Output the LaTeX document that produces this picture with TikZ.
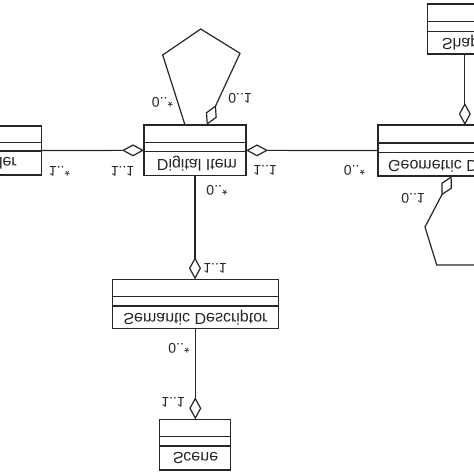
\documentclass[tikz,border=0pt]{standalone}
\usepackage{graphicx}
\usepackage{fontspec}
\setmainfont{Liberation Sans}
\usetikzlibrary{arrows.meta,calc}
\definecolor{ink}{HTML}{262626}
\newcommand\upsd[1]{\scalebox{1}[-1]{#1}}
\newcommand\umlclass[7]{%
  \node[classbox,minimum width=#4pt,minimum height=#5pt,anchor=north west] (#1) at (#2,#3) {};
  \draw[conn] ($(#1.north west)+(0,#6)$) -- ($(#1.north east)+(0,#6)$);
  \draw[conn] ($(#1.north west)+(0,#7)$) -- ($(#1.north east)+(0,#7)$);}
\tikzset{
  classbox/.style={draw=ink,line width=1.2pt,inner sep=0pt,outer sep=0pt,rectangle},
  conn/.style={draw=ink,line width=1.2pt},
  agg/.style={{Diamond[open,length=22pt,width=12pt]}-},
  cname/.style={font=\fontsize{16}{18}\selectfont,text=ink,inner sep=0pt},
  mult/.style={font=\fontsize{14}{16}\selectfont,text=ink,inner sep=0pt},
}
\begin{document}
\begin{tikzpicture}[x=1pt,y=-1pt]
\useasboundingbox (0,0) rectangle (474,474);
\clip (0,0) rectangle (474,474);
\fill[white] (0,0) rectangle (474,474);
% classes
\umlclass{ctl}{-77}{126}{118.5}{49}{16.3}{25}
\umlclass{di}{144}{125}{102}{50.7}{17.7}{26.7}
\umlclass{geo}{378}{125}{171}{51}{18}{27.7}
\umlclass{shape}{427.7}{4}{74.3}{50}{17.7}{27.7}
\umlclass{sem}{112.3}{279.3}{166}{49}{17.4}{26.7}
\umlclass{scene}{159.3}{419.3}{71.4}{50.7}{17.4}{26.7}
\node[cname,anchor=east] (ctl-n) at (17,163) {\upsd{Controller}};
\node[cname] (di-n) at (197,163.7) {\upsd{Digital Item}};
\node[cname,anchor=west] (geo-n) at (388,164.3) {\upsd{Geometric Descriptor}};
\node[cname,anchor=west] (shape-n) at (441.7,42.8) {\upsd{Shape}};
\node[cname] (sem-n) at (195.5,317.2) {\upsd{Semantic Descriptor}};
\node[cname] (scene-n) at (195.5,458) {\upsd{Scene}};
% connectors
\draw[conn,agg] (di.west) -- (ctl.east);
\draw[conn,agg] (di.east) -- (geo.west);
\draw[conn,agg] (sem.north -| di.south) -- (di.south);
\draw[conn,agg] (scene.north -| sem.south) -- (sem.south);
\draw[conn,agg] (geo.north -| shape.south) -- (shape.south);
% self associations
\draw[conn,agg] ($(di.north west)+(62.7,0)$) -- (240,53.3) -- (200.7,29) -- (162.7,55) -- ($(di.north west)+(41,0)$);
\draw[conn,agg] ($(geo.south west)+(73.7,0)$) -- (425,227) -- (436.7,265) -- (520,265) -- (530,227) -- ($(geo.south west)+(120,0)$);
% multiplicities
\node[mult] (m1) at (59.5,171) {\upsd{1..*}};
\node[mult] (m2) at (122.5,171) {\upsd{1..1}};
\node[mult] (m3) at (265,170) {\upsd{1..1}};
\node[mult] (m4) at (354.5,170) {\upsd{0..*}};
\node[mult] (m5) at (162.5,102) {\upsd{0..*}};
\node[mult] (m6) at (240,98) {\upsd{0..1}};
\node[mult] (m7) at (413,198) {\upsd{0..1}};
\node[mult] (m8) at (217,190) {\upsd{0..*}};
\node[mult] (m9) at (215,268) {\upsd{1..1}};
\node[mult] (m10) at (179,348) {\upsd{0..*}};
\node[mult] (m11) at (173,402) {\upsd{1..1}};
\end{tikzpicture}
\end{document}
